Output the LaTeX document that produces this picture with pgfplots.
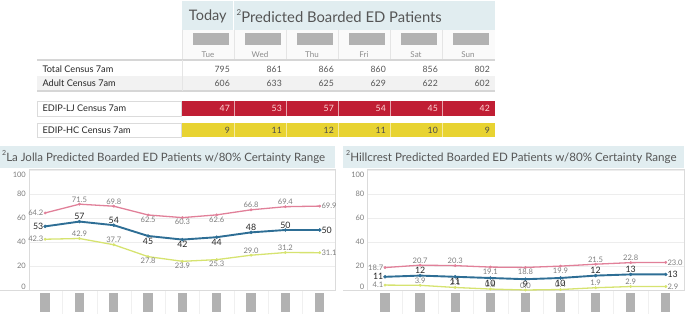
\documentclass[border=0pt]{standalone}
\usepackage{fontspec}
\setmainfont{Lato}
\usepackage{pgfplots}
\pgfplotsset{compat=1.18}
\definecolor{pk}{RGB}{225,128,153}
\definecolor{bl}{RGB}{46,110,149}
\definecolor{yg}{RGB}{214,227,112}
\definecolor{redc}{RGB}{192,30,52}
\definecolor{yelc}{RGB}{232,211,50}
\definecolor{band}{RGB}{225,237,240}
\definecolor{txt}{RGB}{85,85,85}
\definecolor{lbl}{RGB}{125,125,125}
\definecolor{boxg}{RGB}{178,178,178}

\pgfplotsset{
  panel/.style={scale only axis, height=121pt, ymin=0, ymax=100.8,
    ytick={0,20,...,100}, ymajorgrids, grid style={black!7, line width=0.6pt},
    axis line style={black!14}, major tick length=0pt,
    xtick={0,...,8}, xtick pos=lower, ytick pos=left,
    xticklabel={\textcolor{boxg}{\rule{9.3pt}{19pt}}},
    xticklabel style={anchor=north, inner sep=0pt, yshift=-3pt},
    minor xtick={0.5,1.5,...,7.5}, minor tick length=24pt, tick align=outside,
    minor tick style={black!6},
    yticklabel style={font=\fontsize{7.5}{8}\selectfont, text=lbl, inner sep=1pt, xshift=-2pt,
      yshift={3*(\ticknum==0)-4.5*(\ticknum==5)}},
    /pgf/number format/assume math mode=true, clip=false},
  hiline/.style={color=pk, line width=1.3pt, mark=*, mark size=1.3pt, mark options={line width=0.3pt}},
  loline/.style={color=yg, line width=1.3pt, mark=*, mark size=1.3pt, mark options={line width=0.3pt}},
  midline/.style={color=bl, line width=1.9pt, mark=*, mark size=1.6pt, mark options={line width=0.3pt}},
  lg/.style={draw=none, mark=none,
    nodes near coords={\pgfmathprintnumber[fixed,fixed zerofill,precision=1,assume math mode=true]{\pgfplotspointmeta}},
    every node near coord/.append style={font=\fontsize{7.6}{8}\selectfont, text=lbl, inner sep=1.6pt}},
  lb/.style={draw=none, mark=none,
    nodes near coords={\pgfmathprintnumber[fixed,precision=0,assume math mode=true]{\pgfplotspointmeta}},
    every node near coord/.append style={font=\fontsize{8.8}{9}\selectfont, text=black!85, inner sep=1.6pt}},
  ab/.style={every node near coord/.append style={anchor=south}},
  be/.style={every node near coord/.append style={anchor=north}},
  le/.style={every node near coord/.append style={anchor=east}},
  ri/.style={every node near coord/.append style={anchor=west}},
}

\begin{document}
\begin{tikzpicture}[x=1pt,y=1pt]
\useasboundingbox (0,0) rectangle (685,314);
% ---------- top table ----------
\fill[band] (182,313) rectangle (495,284);
\draw[white, line width=1.2pt] (233.8,313) -- (233.8,284);
\node[text=txt, font=\fontsize{14.5}{15}\selectfont] at (207.8,298) {Today};
\node[anchor=west, text=txt, font=\fontsize{14.8}{15}\selectfont, inner sep=0pt] at (236.5,298) {\raisebox{0.45em}{\fontsize{8}{8}\selectfont 2}Predicted Boarded ED Patients};
\fill[black!2] (182,284) rectangle (495,254);
\foreach \d [count=\i from 0] in {Tue,Wed,Thu,Fri,Sat,Sun} {
  \fill[boxg] ({182+52*\i+11},281) rectangle ({182+52*\i+47},269);
  \node[text=black!45, font=\fontsize{8}{9}\selectfont] at ({182+52*\i+26},259) {\d};
  \draw[black!10, line width=0.8pt] ({182+52*\i},284) -- ({182+52*\i},254);
}
\fill[black!5] (37,238) rectangle (495,224);
\draw[black!16, line width=1.2pt] (37,254) -- (495,254);
\draw[black!16, line width=1.2pt] (37,223) -- (495,223);
\draw[black!10, line width=0.8pt] (182,254) -- (182,223);
\node[anchor=west, text=black!85, font=\fontsize{9.2}{10}\selectfont] at (39,245) {Total Census 7am};
\node[anchor=west, text=black!85, font=\fontsize{9.2}{10}\selectfont] at (39,231) {Adult Census 7am};
\foreach \v [count=\i from 0] in {795,861,866,860,856,802}
  \node[anchor=east, text=txt, font=\fontsize{8.7}{9}\selectfont, inner sep=0pt] at ({182+52*\i+48},245) {\v};
\foreach \v [count=\i from 0] in {606,633,625,629,622,602}
  \node[anchor=east, text=txt, font=\fontsize{8.7}{9}\selectfont, inner sep=0pt] at ({182+52*\i+48},231) {\v};
% EDIP rows
\draw[black!14, line width=0.8pt, fill=white] (37,213) rectangle (181,198);
\node[anchor=west, text=black!85, font=\fontsize{9.2}{10}\selectfont] at (39,205.5) {EDIP-LJ Census 7am};
\fill[redc] (182,213) rectangle (495,198);
\foreach \v [count=\i from 0] in {47,53,57,54,45,42} {
  \node[anchor=east, text=red!15, font=\fontsize{8.7}{9}\selectfont, inner sep=0pt] at ({182+52*\i+48},205.5) {\v};
  \ifnum\i>0 \draw[white!60!redc, line width=0.8pt] ({182+52*\i},213) -- ({182+52*\i},198); \fi
}
\draw[black!14, line width=0.8pt, fill=white] (37,191) rectangle (181,177);
\node[anchor=west, text=black!85, font=\fontsize{9.2}{10}\selectfont] at (39,184) {EDIP-HC Census 7am};
\fill[yelc] (182,191) rectangle (495,177);
\foreach \v [count=\i from 0] in {9,11,12,11,10,9} {
  \node[anchor=east, text=black!70, font=\fontsize{8.7}{9}\selectfont, inner sep=0pt] at ({182+52*\i+48},184) {\v};
  \ifnum\i>0 \draw[white!55!yelc, line width=0.8pt] ({182+52*\i},191) -- ({182+52*\i},177); \fi
}
% ---------- panel titles ----------
\fill[band] (0,168) rectangle (335,146);
\node[anchor=west, text=txt, font=\fontsize{11.5}{12}\selectfont, inner sep=0pt] at (2,157) {\raisebox{0.45em}{\fontsize{7}{7}\selectfont 2}La Jolla Predicted Boarded ED Patients w/80\% Certainty Range};
\fill[band] (343,168) rectangle (684,146);
\node[anchor=west, text=txt, font=\fontsize{11.6}{12}\selectfont, inner sep=0pt] at (346,157) {\raisebox{0.45em}{\fontsize{7}{7}\selectfont 2}Hillcrest Predicted Boarded ED Patients w/80\% Certainty Range};
\draw[black!14, line width=0.8pt] (0,24) -- (335,24);
\draw[black!14, line width=0.8pt] (343,24) -- (684,24);
% ---------- La Jolla chart ----------
\begin{axis}[panel, at={(29pt,24pt)}, anchor=south west, width=306.5pt, xmin=-0.47, xmax=8.46]
\addplot[loline] coordinates {(0,42.3) (1,42.9) (2,37.7) (3,27.8) (4,23.9) (5,25.3) (6,29.0) (7,31.2) (8,31.1)};
\addplot[hiline] coordinates {(0,64.2) (1,71.5) (2,69.8) (3,62.5) (4,60.3) (5,62.6) (6,66.8) (7,69.4) (8,69.9)};
\addplot[midline] coordinates {(0,53) (1,57) (2,54) (3,45) (4,42) (5,44) (6,48) (7,50) (8,50)};
% labels
\addplot[lg, le] coordinates {(0,42.3) (0,64.2)};
\addplot[lg, ri] coordinates {(8,31.1) (8,69.9)};
\addplot[lg, ab] coordinates {(1,42.9) (2,37.7) (6,29.0) (7,31.2) (1,71.5) (2,69.8) (6,66.8) (7,69.4)};
\addplot[lg, be] coordinates {(3,27.8) (4,23.9) (5,25.3) (3,62.5) (4,60.3) (5,62.6)};
\addplot[lb, le] coordinates {(0,53)};
\addplot[lb, ri] coordinates {(8,50)};
\addplot[lb, ab] coordinates {(1,57) (2,54) (6,48) (7,50)};
\addplot[lb, be] coordinates {(3,45) (4,42) (5,44)};
\end{axis}
% ---------- Hillcrest chart ----------
\begin{axis}[panel, at={(367.5pt,24pt)}, anchor=south west, width=316.5pt, xmin=-0.5, xmax=8.52]
\addplot[loline] coordinates {(0,4.1) (1,3.9) (2,2.1) (3,0.8) (4,0.0) (5,0.4) (6,1.9) (7,2.9) (8,2.9)};
\addplot[hiline] coordinates {(0,18.7) (1,20.7) (2,20.3) (3,19.1) (4,18.8) (5,19.9) (6,21.5) (7,22.8) (8,23.0)};
\addplot[midline] coordinates {(0,11) (1,12) (2,11) (3,10) (4,9) (5,10) (6,12) (7,13) (8,13)};
% labels
\addplot[lg, le] coordinates {(0,4.1) (0,18.7)};
\addplot[lg, ri] coordinates {(8,2.9) (8,23.0)};
\addplot[lg, ab] coordinates {(1,3.9) (2,2.1) (3,0.8) (4,0.0) (5,0.4) (6,1.9) (7,2.9) (1,20.7) (2,20.3) (6,21.5) (7,22.8)};
\addplot[lg, be] coordinates {(3,19.1) (4,18.8) (5,19.9)};
\addplot[lb, le] coordinates {(0,11)};
\addplot[lb, ri] coordinates {(8,13)};
\addplot[lb, ab] coordinates {(1,12) (6,12) (7,13)};
\addplot[lb, be] coordinates {(2,11) (3,10) (4,9) (5,10)};
\end{axis}
\end{tikzpicture}
\end{document}
